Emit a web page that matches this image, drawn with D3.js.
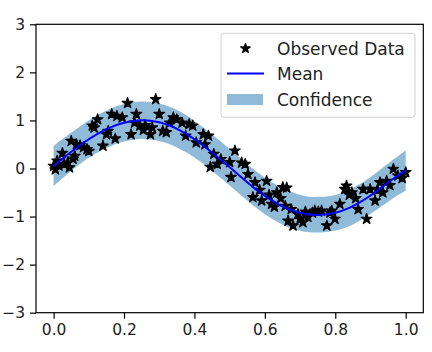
<!DOCTYPE html>
<html>
<head>
<meta charset="utf-8">
<script src="https://cdn.jsdelivr.net/npm/d3@7"></script>
<style>
  body { margin: 0; background: #fff; }
  text { font-family: "DejaVu Sans", sans-serif; fill: #222; }
</style>
</head>
<body>
<div id="chart"></div>
<script>
// DATA
// ------------------------------------------------------------------

// observed (noisy) samples
var obsX = [0.000, 0.005, 0.010, 0.015, 0.025, 0.030, 0.040, 0.045, 0.050, 0.055,
            0.060, 0.065, 0.075, 0.085, 0.095, 0.100, 0.110, 0.115, 0.125, 0.140,
            0.150, 0.155, 0.165, 0.175, 0.180, 0.195, 0.210, 0.220, 0.230, 0.235,
            0.245, 0.255, 0.260, 0.275, 0.280, 0.290, 0.300, 0.310, 0.320, 0.330,
            0.340, 0.350, 0.365, 0.375, 0.385, 0.395, 0.405, 0.425, 0.430, 0.440,
            0.445, 0.455, 0.465, 0.475, 0.500, 0.504, 0.515, 0.534, 0.544, 0.552,
            0.566, 0.572, 0.585, 0.591, 0.605, 0.612, 0.619, 0.627, 0.634, 0.645,
            0.651, 0.658, 0.662, 0.666, 0.675, 0.680, 0.694, 0.700, 0.708, 0.715,
            0.722, 0.735, 0.742, 0.752, 0.761, 0.776, 0.785, 0.790, 0.799, 0.813,
            0.827, 0.832, 0.840, 0.847, 0.858, 0.865, 0.879, 0.889, 0.899, 0.913,
            0.920, 0.927, 0.935, 0.946, 0.955, 0.965, 0.978, 0.990, 1.000];
var obsY = [0.05, -0.02, 0.16, 0.06, 0.32, 0.09, 0.12, 0.02, 0.57, 0.20,
            0.26, 0.50, 0.48, 0.44, 0.40, 0.36, 0.89, 0.85, 1.02, 0.47,
            0.71, 0.78, 1.13, 0.62, 1.09, 1.06, 1.36, 0.71, 0.95, 1.13,
            0.89, 0.80, 0.90, 0.71, 0.85, 1.44, 1.13, 0.78, 0.75, 0.95,
            1.06, 1.02, 0.95, 0.68, 0.92, 0.89, 0.54, 0.71, 0.50, 0.68,
            0.03, 0.30, 0.09, 0.19, 0.13, -0.18, 0.37, 0.12, 0.09, -0.12,
            -0.60, -0.29, -0.45, -0.67, -0.26, -0.55, -0.74, -0.80, -0.50, -0.62,
            -0.39, -0.78, -0.40, -1.09, -0.85, -1.19, -0.95, -1.05, -1.12, -0.90,
            -1.01, -0.92, -0.88, -0.90, -0.88, -1.19, -0.92, -0.88, -1.05, -0.74,
            -0.43, -0.36, -0.55, -0.50, -0.62, -0.85, -0.43, -1.05, -0.43, -0.67,
            -0.45, -0.29, -0.50, -0.26, -0.35, -0.01, -0.15, -0.20, -0.08];

// predictive mean and confidence region
var predX = [0, 0.04, 0.08, 0.12, 0.16, 0.20, 0.24, 0.28, 0.32, 0.36, 0.40, 0.44, 0.48,
             0.52, 0.56, 0.60, 0.64, 0.68, 0.72, 0.76, 0.80, 0.84, 0.88, 0.92, 0.96, 1.00];
var meanY = [0.05, 0.29, 0.51, 0.70, 0.85, 0.95, 1.00, 0.99, 0.92, 0.79, 0.61, 0.39, 0.15,
             -0.10, -0.35, -0.57, -0.75, -0.88, -0.95, -0.96, -0.92, -0.82, -0.66, -0.46, -0.24, -0.04];
var upperY = [0.47, 0.69, 0.90, 1.09, 1.24, 1.34, 1.39, 1.38, 1.31, 1.18, 0.99, 0.77, 0.53,
              0.28, 0.03, -0.19, -0.37, -0.50, -0.58, -0.59, -0.55, -0.44, -0.28, -0.07, 0.16, 0.38];
var lowerY = [-0.37, -0.11, 0.12, 0.31, 0.46, 0.56, 0.61, 0.60, 0.53, 0.40, 0.23, 0.01, -0.23,
              -0.48, -0.73, -0.95, -1.13, -1.26, -1.32, -1.33, -1.29, -1.20, -1.04, -0.85, -0.64, -0.46];

var xTicks = [0, 0.2, 0.4, 0.6, 0.8, 1.0];
var yTicks = [-3, -2, -1, 0, 1, 2, 3];
var legendLabels = ["Observed Data", "Mean", "Confidence"];

// CANVAS
// ------------------------------------------------------------------

var width = 432,
    height = 352;

var svg = d3.select("#chart")
    .append("svg")
    .attr("width", width)
    .attr("height", height);

var plotL = 36, plotR = 423.3, plotT = 24.3, plotB = 312.7;

var xScale = d3.scaleLinear().domain([-0.05, 1.05]).range([plotL, plotR]),
    yScale = d3.scaleLinear().domain([-3, 3]).range([plotB, plotT]);

// star marker (matplotlib '*')
function starPath(r) {
  var pts = [];
  for (var i = 0; i < 10; i++) {
    var rr = i % 2 == 0 ? r : r * 0.382;
    var a = -Math.PI / 2 + i * Math.PI / 5;
    pts.push([rr * Math.cos(a), rr * Math.sin(a)]);
  }
  return "M" + pts.map(function(p) { return p[0].toFixed(2) + "," + p[1].toFixed(2); }).join("L") + "Z";
}

// CONFIDENCE + MEAN
// ------------------------------------------------------------------

var band = predX.map(function(x, i) { return [x, lowerY[i], upperY[i]]; });

var area = d3.area()
    .x(function(d) { return xScale(d[0]); })
    .y0(function(d) { return yScale(d[1]); })
    .y1(function(d) { return yScale(d[2]); })
    .curve(d3.curveCatmullRom);

svg.append("path")
    .attr("d", area(band))
    .attr("fill", "#1f77b4")
    .attr("fill-opacity", 0.5);

var line = d3.line()
    .x(function(d) { return xScale(d[0]); })
    .y(function(d) { return yScale(d[1]); })
    .curve(d3.curveCatmullRom);

// OBSERVED
// ------------------------------------------------------------------

var star = starPath(5.6);
svg.append("g").selectAll("path")
    .data(obsX.map(function(x, i) { return [x, obsY[i]]; }))
    .enter().append("path")
    .attr("d", star)
    .attr("transform", function(d) { return "translate(" + xScale(d[0]) + "," + yScale(d[1]) + ")"; })
    .attr("fill", "#000")
    .attr("stroke", "#000")
    .attr("stroke-width", 1.2)
    .attr("stroke-linejoin", "round");

svg.append("path")
    .attr("d", line(predX.map(function(x, i) { return [x, meanY[i]]; })))
    .attr("fill", "none")
    .attr("stroke", "#0000ff")
    .attr("stroke-width", 2);

// AXES
// ------------------------------------------------------------------

var xAxis = d3.axisBottom(xScale).tickValues(xTicks).tickSize(6).tickPadding(5)
    .tickFormat(d3.format(".1f"));
var yAxis = d3.axisLeft(yScale).tickValues(yTicks).tickSize(6).tickPadding(5)
    .tickFormat(function(d) { return d < 0 ? "\u2212" + Math.abs(d) : d; });

var gx = svg.append("g").attr("transform", "translate(0," + plotB + ")").call(xAxis);
var gy = svg.append("g").attr("transform", "translate(" + plotL + ",0)").call(yAxis);

[gx, gy].forEach(function(g) {
  g.select(".domain").remove();
  g.selectAll("line").attr("stroke", "#000").attr("stroke-width", 1.2);
  g.selectAll("text").attr("fill", "#222").style("font-size", "15.5px");
});

svg.append("rect")
    .attr("x", plotL).attr("y", plotT)
    .attr("width", plotR - plotL).attr("height", plotB - plotT)
    .attr("fill", "none")
    .attr("stroke", "#000")
    .attr("stroke-width", 1.2);

// LEGEND
// ------------------------------------------------------------------

var lg = svg.append("g");
lg.append("rect")
    .attr("x", 221).attr("y", 33.3)
    .attr("width", 194).attr("height", 84)
    .attr("rx", 3)
    .attr("fill", "#fff").attr("fill-opacity", 0.8)
    .attr("stroke", "#d0d0d0");

var rowY = [48.5, 73.5, 99.5];
lg.append("path").attr("d", starPath(5))
    .attr("transform", "translate(245.5," + rowY[0] + ")")
    .attr("fill", "#000").attr("stroke", "#000").attr("stroke-width", 1.2)
    .attr("stroke-linejoin", "round");
lg.append("line")
    .attr("x1", 227).attr("x2", 264).attr("y1", rowY[1]).attr("y2", rowY[1])
    .attr("stroke", "#0000ff").attr("stroke-width", 2);
lg.append("rect")
    .attr("x", 227).attr("y", rowY[2] - 5.5).attr("width", 36).attr("height", 11)
    .attr("fill", "#1f77b4").attr("fill-opacity", 0.5);

lg.selectAll("text.lab")
    .data(legendLabels)
    .enter().append("text")
    .attr("class", "lab")
    .attr("x", 277)
    .attr("y", function(d, i) { return rowY[i]; })
    .attr("dy", "0.36em")
    .style("font-size", "17px")
    .text(function(d) { return d; });
</script>
</body>
</html>
